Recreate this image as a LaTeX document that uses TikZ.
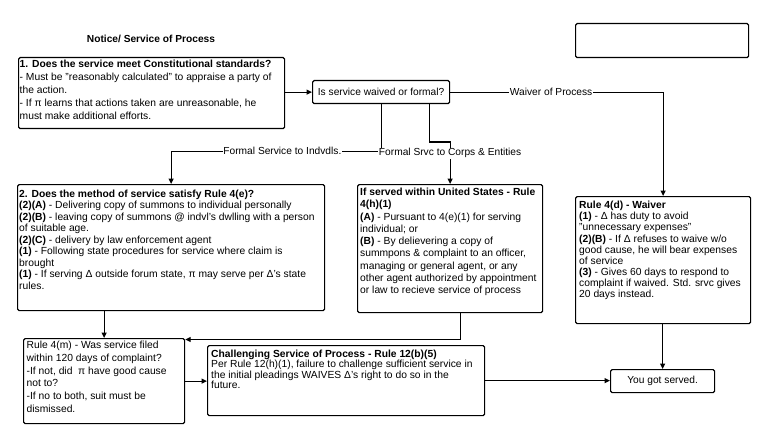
\documentclass[tikz,border=0pt]{standalone}
\usepackage{fontspec}
\setmainfont{Liberation Sans}
\usetikzlibrary{arrows.meta,calc}
\begin{document}
\begin{tikzpicture}[x=1pt,y=-1pt,
  box/.style={draw, line width=1.2pt, rounded corners=1.5pt, inner sep=0pt, anchor=north west},
  txt/.style={anchor=north west, inner sep=0pt, align=left},
  conn/.style={line width=1.1pt, -{Triangle[length=5.5pt,width=5pt]}},
  lbl/.style={fill=white, inner sep=0.6pt, font=\fontsize{10.2}{11}\selectfont},
]
\useasboundingbox (0,0) rectangle (784,441);
\fill[white] (0,0) rectangle (784,441);

% title
\node[font=\fontsize{10.2}{11}\selectfont\bfseries] (title) at (151,39) {Notice/ Service of Process};

% boxes
\node[box, minimum width=266pt, minimum height=71pt] (b1) at (18,57) {};
\node[box, minimum width=137pt, minimum height=23pt] (wv) at (312,80) {};
\node[box, minimum width=173pt, minimum height=34pt] (empty) at (575,23) {};
\node[box, minimum width=307pt, minimum height=126pt] (b2) at (17,184) {};
\node[box, minimum width=185pt, minimum height=128pt] (b3) at (357,184) {};
\node[box, minimum width=175pt, minimum height=127pt] (r4d) at (575,196) {};
\node[box, minimum width=161pt, minimum height=85pt] (r4m) at (23,338) {};
\node[box, minimum width=277pt, minimum height=70pt] (ch) at (207,345) {};
\node[box, minimum width=104pt, minimum height=23pt] (ygs) at (610,369) {};

% texts
\node[txt, font=\fontsize{10.3}{13.1}\selectfont] (t1) at (19.5,59.4) {\textbf{1. Does the service meet Constitutional standards?}\\
- Must be "reasonably calculated" to appraise a party of\\
the action.\\
- If π learns that actions taken are unreasonable, he\\
must make additional efforts.};

\node[font=\fontsize{10.2}{11}\selectfont] (twv) at (wv.center) {Is service waived or formal?};

\node[txt, font=\fontsize{10.3}{11.5}\selectfont] (t2) at (19,189.4) {\textbf{2. Does the method of service satisfy Rule 4(e)?}\\
\textbf{(2)(A)} - Delivering copy of summons to individual personally\\
\textbf{(2)(B)} - leaving copy of summons @ indvl's dwlling with a person\\
of suitable age.\\
\textbf{(2)(C)} - delivery by law enforcement agent\\
\textbf{(1)} - Following state procedures for service where claim is\\
brought\\
\textbf{(1)} - If serving Δ outside forum state, π may serve per Δ's state\\
rules.};

\node[txt, font=\fontsize{10.3}{12.3}\selectfont] (t3) at (360,187.8) {\textbf{If served within United States - Rule}\\
\textbf{4(h)(1)}\\
\textbf{(A)} - Pursuant to 4(e)(1) for serving\\
individual; or\\
\textbf{(B)} - By delievering a copy of\\
summpons \& complaint to an officer,\\
managing or general agent, or any\\
other agent authorized by appointment\\
or law to recieve service of process};

\node[txt, font=\fontsize{10.3}{11.1}\selectfont] (t4d) at (579,201.1) {\textbf{Rule 4(d) - Waiver}\\
\textbf{(1)} - Δ has duty to avoid\\
"unnecessary expenses"\\
\textbf{(2)(B)} - If Δ refuses to waive w/o\\
good cause, he will bear expenses\\
of service\\
\textbf{(3)} - Gives 60 days to respond to\\
complaint if waived. Std. srvc gives\\
20 days instead.};

\node[txt, font=\fontsize{10.3}{12.7}\selectfont] (t4m) at (26.5,341.1) {Rule 4(m) - Was service filed\\
within 120 days of complaint?\\
-If not, did \ π have good cause\\
not to?\\
-If no to both, suit must be\\
dismissed.};

\node[txt, font=\fontsize{10.3}{10.6}\selectfont] (tch) at (211,349.4) {\textbf{Challenging Service of Process - Rule 12(b)(5)}\\
Per Rule 12(h)(1), failure to challenge sufficient service in\\
the initial pleadings WAIVES Δ's right to do so in the\\
future.};

\node[font=\fontsize{10.2}{11}\selectfont] (tygs) at (ygs.center) {You got served.};

% connectors
\draw[conn] (b1.east |- wv.west) -- (wv.west);
\draw[conn] (wv.east) -| (r4d.north) node[lbl, pos=0.237] {Waiver of Process};
\draw[conn] (wv.south) -- ++(0,47) -| (b2.north) node[lbl, pos=0.235] {Formal Service to Indvdls.};
\draw[conn] ($(wv.south east)+(-21,0)$) |- ($(b3.north)+(0,-42)$) -- (b3.north) node[lbl, pos=0.27] {Formal Srvc to Corps \& Entities};
\draw[conn] (b2.south -| r4m.north) -- (r4m.north);
\draw[conn] ($(b3.south)+(10.5,0)$) |- ($(r4m.north east)+(0,1.5)$);
\draw[conn] (r4m.east) -- (r4m.east -| ch.west);
\draw[conn] (ch.east) -- (ch.east -| ygs.west);
\draw[conn] (r4d.south -| ygs.north) -- (ygs.north);
\end{tikzpicture}
\end{document}
